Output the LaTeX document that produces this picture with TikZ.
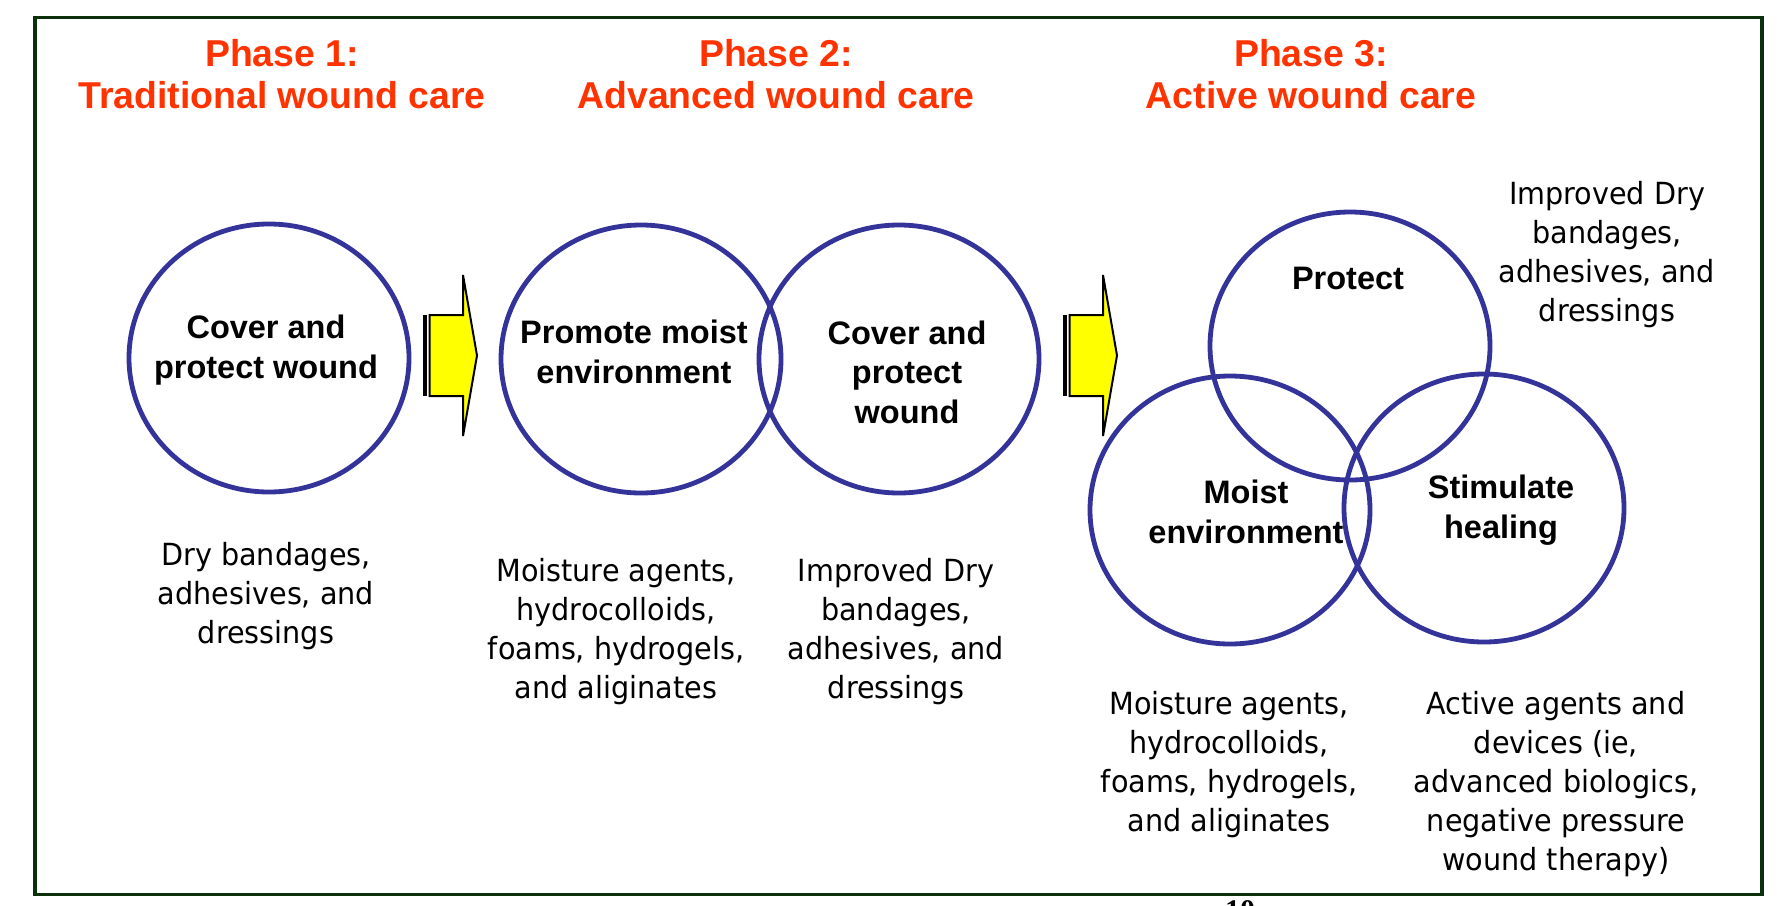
\documentclass[tikz,border=0pt]{standalone}
\usepackage{fontspec}
\usetikzlibrary{shapes.geometric}
\newfontfamily\headfont{Liberation Sans}
\newfontfamily\bodyfont{DejaVu Sans}[FakeStretch=0.94]
\newfontfamily\refsfont{Liberation Serif}
\definecolor{Ring}{HTML}{333399}
\definecolor{Flame}{HTML}{FF3300}
\definecolor{Frame}{HTML}{0B300B}
\definecolor{Lemon}{HTML}{FFFF00}

\begin{document}
\begin{tikzpicture}[
  x=1pt,y=-1pt,
  phase/.style={text=Flame,align=center,inner sep=0pt,font=\headfont\bfseries\fontsize{37.4}{42}\selectfont},
  ring/.style={ellipse,draw=Ring,line width=4.8pt,minimum width=280pt,minimum height=268pt,inner sep=0pt},
  core/.style={align=center,inner sep=0pt,font=\headfont\bfseries\fontsize{32.5}{39.5}\selectfont},
  note/.style={align=center,inner sep=0pt,font=\bodyfont\fontsize{30.5}{39}\selectfont},
  block/.style={draw=black,line width=2pt,fill=Lemon,line join=miter}
]
\useasboundingbox (0,0) rectangle (1785,905);
\fill[white] (0,0) rectangle (1785,905);
\draw[Frame,line width=3.5pt] (35,17.5) rectangle (1762,894.5);

% phase headings
\node[phase] (h1) at (282,74.5) {Phase 1:\\Traditional wound care};
\node[phase] (h2) at (776,74.5) {Phase 2:\\Advanced wound care};
\node[phase] (h3) at (1311,74.5) {Phase 3:\\Active wound care};

% circles
\node[ring] (c1) at (269,358) {};
\node[ring] (c2) at (641,359) {};
\node[ring] (c3) at (899,359) {};
\node[ring] (cp) at (1350,346) {};
\node[ring] (cm) at (1230,510) {};
\node[ring] (cs) at (1484,508) {};

% circle texts
\node[core] (t1) at (266,350) {Cover and\\protect wound};
\node[core] (t2) at (634,352) {Promote moist\\environment};
\node[core] (t3) at (907,372) {Cover and\\protect\\wound};
\node[core] (tp) at (1348,278) {Protect};
\node[core] (tm) at (1246,512) {Moist\\environment};
\node[core] (ts) at (1501,510) {Stimulate\\healing};

% notes
\node[note] (n1) at (266,596.5) {Dry bandages,\\adhesives, and\\dressings};
\node[note] (n2) at (616,631.5) {Moisture agents,\\hydrocolloids,\\foams, hydrogels,\\and aliginates};
\node[note] (n3) at (896,631.5) {Improved Dry\\bandages,\\adhesives, and\\dressings};
\node[note] (np) at (1607,255) {Improved Dry\\bandages,\\adhesives, and\\dressings};
\node[note] (nm) at (1229,764.5) {Moisture agents,\\hydrocolloids,\\foams, hydrogels,\\and aliginates};
\node[note] (ns) at (1556,784.5) {Active agents and\\devices (ie,\\advanced biologics,\\negative pressure\\wound therapy)};

% striped arrows
\fill[black] (423,315) rectangle (427,396);
\draw[block] (429.5,315) -- (463,315) -- (463,275) -- (477,355.5) -- (463,436) -- (463,396) -- (429.5,396) -- cycle;
\fill[black] (1063,315) rectangle (1067,396);
\draw[block] (1069.5,315) -- (1103,315) -- (1103,275) -- (1117,355.5) -- (1103,436) -- (1103,396) -- (1069.5,396) -- cycle;

% cut-off reference mark
\node[anchor=base,inner sep=0pt,font=\refsfont\bfseries\fontsize{30}{36}\selectfont] (fn) at (1240,920) {10};
\end{tikzpicture}
\end{document}
